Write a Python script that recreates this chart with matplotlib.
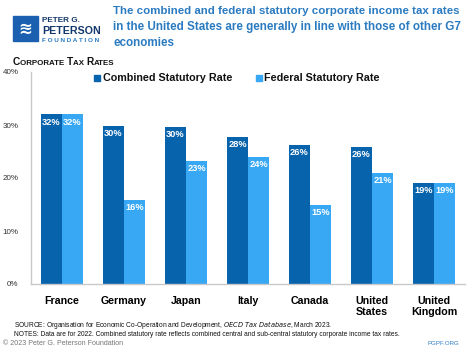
import matplotlib
matplotlib.use("Agg")
import matplotlib.pyplot as plt
from matplotlib.patches import Rectangle
import numpy as np

countries = ["France", "Germany", "Japan", "Italy", "Canada", "United\nStates", "United\nKingdom"]
combined = [32.0, 29.9, 29.7, 27.8, 26.2, 25.8, 19.0]
federal = [32.0, 15.8, 23.2, 24.0, 15.0, 21.0, 19.0]
combined_labels = ["32%", "30%", "30%", "28%", "26%", "26%", "19%"]
federal_labels = ["32%", "16%", "23%", "24%", "15%", "21%", "19%"]
yticks = [0, 10, 20, 30, 40]
series_names = ["Combined Statutory Rate", "Federal Statutory Rate"]

DARK = "#0863ad"
LIGHT = "#38a8f4"
TITLE = "#2b7bc1"
FONT = ["Liberation Sans", "DejaVu Sans"]

W, H = 474, 355
fig = plt.figure(figsize=(W / 100, H / 100), dpi=100)
fig.patch.set_facecolor("white")
renderer = fig.canvas.get_renderer()


def size_for(s, width_px, weight="bold"):
    t = fig.text(0, 0, s, fontsize=10, fontweight=weight, family=FONT)
    w = t.get_window_extent(renderer).width
    t.remove()
    return 10 * width_px / w


def put(s, x0, x1, yc, weight="bold", color="#111111", ha="left", **kw):
    fs = size_for(s, x1 - x0, weight)
    xx = x0 if ha == "left" else x1
    return fig.text(xx / W, 1 - yc / H, s, fontsize=fs, fontweight=weight,
                    color=color, family=FONT, va="center", ha=ha, **kw)


# axes: x from 31 to 465 px, y from 72 (40%) to 284 (0%)
ax = fig.add_axes([31 / W, 1 - 284 / H, 434 / W, 212 / H])
x = np.arange(len(countries))
bw = 0.33
b1 = ax.bar(x - bw / 2 - 0.005, combined, bw, color=DARK, label=series_names[0])
b2 = ax.bar(x + bw / 2 + 0.005, federal, bw, color=LIGHT, label=series_names[1])
lab_fs = size_for("32%", 18.5)
for bars, labs in ((b1, combined_labels), (b2, federal_labels)):
    for b, lab in zip(bars, labs):
        ax.text(b.get_x() + b.get_width() / 2, b.get_height() - 0.6, lab,
                ha="center", va="top", color="white", fontsize=lab_fs,
                fontweight="bold", family=FONT)

ax.set_xlim(-0.5, len(countries) - 0.5)
ax.set_ylim(0, 40)
ax.set_yticks(yticks)
ax.set_yticklabels([f"{t}%" for t in yticks], fontsize=size_for("40%", 16, "normal"),
                   color="#333333", family=FONT)
ax.set_xticks(x)
ax.set_xticklabels(countries, fontsize=size_for("Germany", 46), fontweight="bold",
                   family=FONT, linespacing=1.05)
ax.tick_params(axis="both", length=0)
ax.tick_params(axis="y", pad=9)
ax.tick_params(axis="x", pad=9)
for s in ("top", "right"):
    ax.spines[s].set_visible(False)
for s in ("left", "bottom"):
    ax.spines[s].set_color("#c8c8c8")
    ax.spines[s].set_linewidth(1.0)

# legend drawn manually in figure space
fig.patches.append(Rectangle((94 / W, 1 - 81 / H), 6 / W, 6 / H,
                             transform=fig.transFigure, color=DARK))
put(series_names[0], 103, 232, 78)
fig.patches.append(Rectangle((256 / W, 1 - 81 / H), 6 / W, 6 / H,
                             transform=fig.transFigure, color=LIGHT))
put(series_names[1], 264, 379, 78)

# Header: logo
fig.patches.append(Rectangle((13 / W, 1 - 41 / H), 25 / W, 25 / H,
                             transform=fig.transFigure, color="#1a5fb0"))
fig.text(25.5 / W, 1 - 28.5 / H, "≋", ha="center", va="center", color="white",
         fontsize=12, fontweight="bold", family=["DejaVu Sans"])
put("PETER G.", 42, 80, 20.5, color="#14386b")
put("PETERSON", 42, 100, 31, color="#14386b")
put("F O U N D A T I O N", 42, 100, 40, color="#2b7bc1")

# small caps subtitle
pieces = [("C", 7.3), ("ORPORATE ", 5.7), ("T", 7.3), ("AX ", 5.7), ("R", 7.3), ("ATES", 5.7)]
cx = 13.0
for s, fs in pieces:
    t = fig.text(cx / W, 1 - 65 / H, s, fontsize=fs, fontweight="bold",
                 color="#111111", family=FONT, va="baseline")
    cx += t.get_window_extent(renderer).width

put("The combined and federal statutory corporate income tax rates", 113, 458, 11, color=TITLE)
t2 = put("in the United States are generally in line with those of other G7", 113, 461, 27, color=TITLE)
fig.text(113 / W, 1 - 42.5 / H, "economies", fontsize=t2.get_fontsize(), fontweight="bold",
         color=TITLE, family=FONT, va="center")

# Footer
t = put("SOURCE: Organisation for Economic Co-Operation and Development, OECD Tax Database, March 2023.",
        14, 326, 325, weight="normal")
t.remove()
fs_src = t.get_fontsize()
fig.text(14 / W, 1 - 325 / H,
         "SOURCE: Organisation for Economic Co-Operation and Development, $\\it{OECD\\ Tax\\ Database}$, March 2023.",
         fontsize=fs_src, color="#111111", family=FONT, va="center")
put("NOTES: Data are for 2022. Combined statutory rate reflects combined central and sub-central statutory corporate income tax rates.",
    14, 400, 334, weight="normal")
put("© 2023 Peter G. Peterson Foundation", 3, 123, 343.5, weight="normal", color="#777777")
put("PGPF.ORG", 428, 460, 343.5, weight="normal", color="#2b7bc1")

fig.savefig("out.png", dpi=100)
